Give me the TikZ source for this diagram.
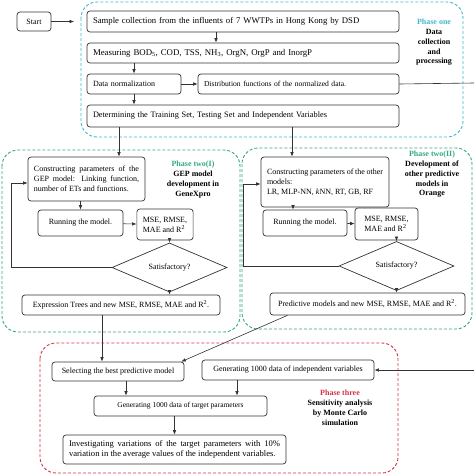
\documentclass[tikz,border=0pt]{standalone}
\usepackage{fontspec}
\setmainfont{Liberation Serif}
\usepackage{xcolor}
\usetikzlibrary{shapes.geometric, arrows.meta}
\definecolor{phaseone}{RGB}{64,184,204}
\definecolor{phasetwo}{RGB}{52,168,128}
\definecolor{phasethree}{RGB}{214,48,72}

\begin{document}
\begin{tikzpicture}[x=1pt,y=-1pt,
  procbox/.style={draw=black!80, line width=0.7pt, rounded corners=3pt, inner xsep=6pt, inner ysep=0pt, font=\fontsize{8}{9.8}\selectfont},
  decide/.style={draw=black!80, line width=0.7pt, diamond, inner sep=0pt, font=\fontsize{8}{9.8}\selectfont},
  phasebox/.style={line width=0.9pt, rounded corners=16pt, dash pattern=on 3pt off 2pt},
  phasetext/.style={font=\fontsize{8}{9.8}\selectfont\bfseries, align=center, anchor=north, inner sep=0pt},
  link/.style={-{Latex[length=4.5pt,width=3.6pt]}, line width=0.6pt, black!80}]
\useasboundingbox (0,0) rectangle (474,474);
%% phases
\draw[phasebox, draw=phaseone] (81,2) rectangle (463,137);
\draw[phasebox, draw=phasetwo] (2,150) rectangle (240,332);
\draw[phasebox, draw=phasetwo] (242,148) rectangle (472,329);
\draw[phasebox, draw=phasethree] (40,343) rectangle (398,473);
\node[phasetext] (oneLab) at (434,19) {\textcolor{phaseone}{Phase one}\\Data\\collection\\and\\processing};
\node[phasetext] (twoLab) at (193,161) {\textcolor{phasetwo}{Phase two(I)}\\GEP model\\development in\\GeneXpro};
\node[phasetext] (twoIILab) at (432,151) {\textcolor{phasetwo}{Phase two(II)}\\Development of\\other predictive\\models in\\Orange};
\node[phasetext] (threeLab) at (340,390) {\textcolor{phasethree}{Phase three}\\Sensitivity analysis\\by Monte Carlo\\simulation};
%% phase one
\node[procbox, minimum width=34, minimum height=19] (start) at (34,21.5) {Start};
\coordinate (oneIn) at (74,21.5);
\node[procbox, text width=300, align=left, minimum height=21, font=\fontsize{8.7}{10}\selectfont] (sample) at (243,21.5) {Sample collection from the influents of 7 WWTPs in Hong Kong by DSD};
\node[procbox, text width=300, align=left, minimum height=20, font=\fontsize{8.8}{10}\selectfont] (measure) at (243,53) {Measuring BOD\textsubscript{5}, COD, TSS, NH\textsubscript{3}, OrgN, OrgP and InorgP};
\node[procbox, text width=82, align=left, minimum height=20] (norm) at (134,84) {Data normalization};
\node[procbox, text width=189, align=left, minimum height=20, font=\fontsize{7.6}{9}\selectfont] (distr) at (298.5,84) {Distribution functions of the normalized data.};
\node[procbox, text width=300, align=left, minimum height=22, font=\fontsize{8.3}{10}\selectfont] (determ) at (243,116) {Determining the Training Set, Testing Set and Independent Variables};
\coordinate (toRight) at (474,83);
\draw[link] (start) -- (oneIn);
\draw[link] ([xshift=-27pt]sample.south) -- ([xshift=-27pt]measure.north);
\draw[link] (norm.north |- measure.south) -- (norm.north);
\draw[link] (norm) -- (distr);
\draw[link] (norm.south) -- (norm.south |- determ.north);
\draw[line width=0.6pt, black!80] (distr.east) -- (toRight);
%% phase two (I)
\node[procbox, text width=105, align=justify, minimum height=44] (gepcon) at (86.5,179) {Constructing parameters of the GEP model: Linking function, number of ETs and functions.};
\node[procbox, minimum width=85, minimum height=26] (geprun) at (80.5,223) {Running the model.};
\node[procbox, minimum width=54, minimum height=31, align=left] (geperr) at (165,224.5) {MSE, RMSE,\\MAE and R\textsuperscript{2}};
\node[decide, minimum width=115, minimum height=35] (gepsat) at (169.5,267.5) {Satisfactory?};
\node[procbox, minimum width=198, minimum height=20] (gepexp) at (121,305) {Expression Trees and new MSE, RMSE, MAE and R\textsuperscript{2}.};
\draw[link] ([xshift=32.5pt]gepcon.north |- determ.south) -- ([xshift=32.5pt]gepcon.north);
\draw[link] (geprun.north |- gepcon.south) -- (geprun.north);
\draw[link] (geprun) -- (geperr);
\draw[link] (geperr.south -| gepsat.north) -- (gepsat.north);
\draw[link] (gepsat.west) -- ++(-100,0) |- ([yshift=-4pt]gepcon.west);
\draw[link] (gepsat.south) -- (gepsat.south |- gepexp.north);
%% phase two (II)
\node[procbox, text width=116, align=justify, minimum height=50] (othcon) at (325,182) {Constructing parameters of the other models:\\LR, MLP-NN, \textit{k}NN, RT, GB, RF};
\node[procbox, minimum width=84, minimum height=26] (othrun) at (305,223) {Running the model.};
\node[procbox, minimum width=63, minimum height=32, align=left] (otherr) at (386.5,224) {MSE, RMSE,\\MAE and R\textsuperscript{2}};
\node[decide, minimum width=115, minimum height=36] (othsat) at (396.5,266) {Satisfactory?};
\node[procbox, minimum width=195, minimum height=22] (othpre) at (367.5,304) {Predictive models and new MSE, RMSE, MAE and R\textsuperscript{2}.};
\draw[link] ([xshift=-33pt]othcon.north |- determ.south) -- ([xshift=-33pt]othcon.north);
\draw[link] ([xshift=-12pt]othrun.north |- othcon.south) -- ([xshift=-12pt]othrun.north);
\draw[link] (othrun) -- (otherr);
\draw[link] (otherr.south -| othsat.north) -- (othsat.north);
\draw[link] (othsat.west) -- ++(-95,0) |- ([yshift=-2pt]othcon.west);
\draw[link] (othsat.south) -- (othsat.south |- othpre.north);
%% phase three
\node[procbox, minimum width=132, minimum height=19] (select) at (118,371.5) {Selecting the best predictive model};
\node[procbox, minimum width=172, minimum height=20] (genind) at (288,370) {Generating 1000 data of independent variables};
\node[procbox, minimum width=173, minimum height=20, font=\fontsize{7.5}{9}\selectfont] (gentar) at (180.5,406) {Generating 1000 data of target parameters};
\node[procbox, text width=211, align=justify, minimum height=29, font=\fontsize{8.6}{10}\selectfont] (invest) at (174.5,449.5) {Investigating variations of the target parameters with 10\% variation in the average values of the independent variables.};
\coordinate (fromRight) at (474,370);
\draw[link] ([xshift=-19pt]gepexp.south) -- ([xshift=-19pt]gepexp.south |- select.north);
\draw[link] ([xshift=-80pt]othpre.south) -- ([xshift=-3pt]select.north east);
\draw[link] (fromRight) -- (genind.east);
\draw[link] ([xshift=8pt]select.south) -- ([xshift=8pt]select.south |- gentar.north);
\draw[link] ([xshift=-51pt]genind.south) -- ([xshift=-51pt]genind.south |- gentar.north);
\draw[link] (invest.north |- gentar.south) -- (invest.north);
\end{tikzpicture}
\end{document}
